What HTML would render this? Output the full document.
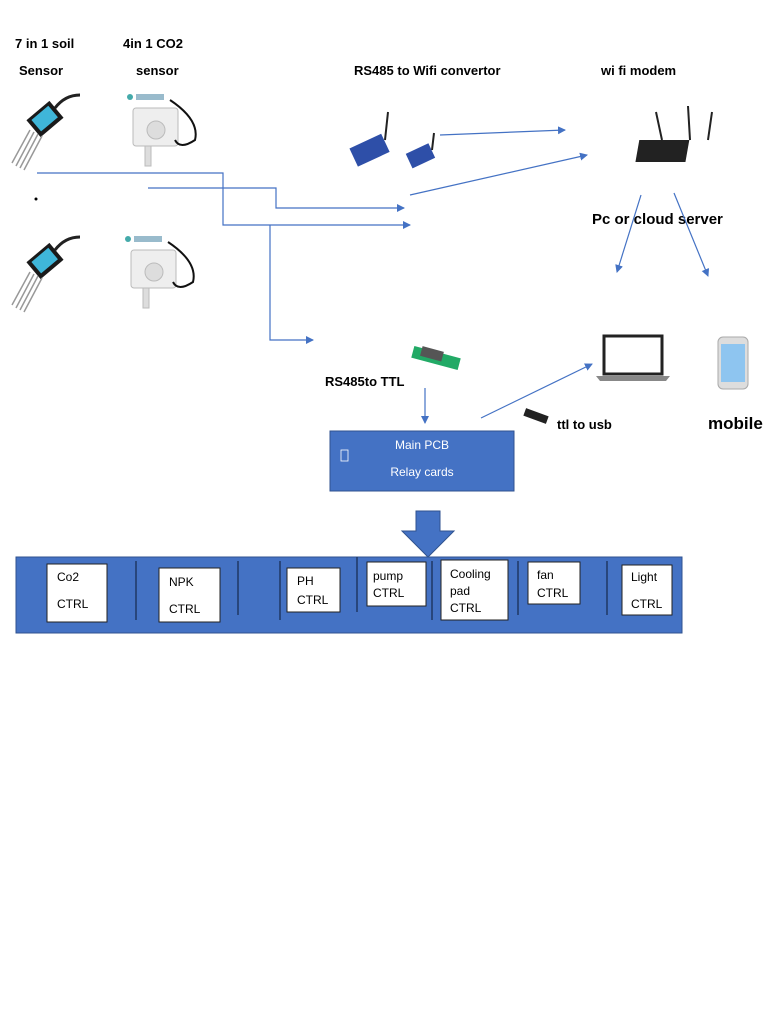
<!DOCTYPE html>
<html><head><meta charset="utf-8"><style>
body{margin:0;background:#fff;width:768px;height:1024px;overflow:hidden;font-family:"Liberation Sans",sans-serif}
svg{position:absolute;left:0;top:0}
</style></head><body>
<svg width="768" height="1024" viewBox="0 0 768 1024" xmlns="http://www.w3.org/2000/svg" font-family="Liberation Sans, sans-serif">
<defs><marker id="a" markerWidth="8" markerHeight="8" refX="7" refY="4" orient="auto" markerUnits="userSpaceOnUse"><path d="M0,0 L8,4 L0,8 z" fill="#4472c4"/></marker></defs>
<g font-weight="bold" font-size="13" fill="#000">
<text x="15" y="48">7 in 1 soil</text>
<text x="19" y="75">Sensor</text>
<text x="123" y="48">4in 1 CO2</text>
<text x="136" y="75">sensor</text>
<text x="354" y="75">RS485 to Wifi convertor</text>
<text x="601" y="75">wi fi modem</text>
<text x="592" y="224" font-size="15">Pc or cloud server</text>
<text x="325" y="386">RS485to TTL</text>
<text x="557" y="429">ttl to usb</text>
<text x="708" y="429" font-size="17">mobile</text>
</g>
<circle cx="36" cy="199" r="1.5" fill="#000"/>
<!-- soil sensors -->
<g id="soil">
<path d="M55,108 Q65,95 80,95" stroke="#222" stroke-width="3" fill="none"/>
<rect x="30" y="108" width="30" height="22" transform="rotate(-40 45 119)" fill="#1a1a1a"/>
<rect x="34" y="111" width="22" height="15" transform="rotate(-40 45 119)" fill="#3fb6d9"/>
<path d="M30,130 L12,163 M34,132 L16,166 M38,134 L20,168 M42,136 L24,170" stroke="#999" stroke-width="1.5"/>
</g>
<use href="#soil" transform="translate(0,142)"/>
<!-- co2 sensors -->
<g id="co2">
<circle cx="130" cy="97" r="3" fill="#4aa"/><rect x="136" y="94" width="28" height="6" fill="#9bc"/>
<rect x="133" y="108" width="45" height="38" rx="3" fill="#eee" stroke="#bbb"/>
<circle cx="156" cy="130" r="9" fill="#ddd" stroke="#bbb"/>
<rect x="145" y="146" width="6" height="20" fill="#ddd" stroke="#bbb"/>
<path d="M170,100 Q200,120 195,140 Q180,150 175,140" stroke="#111" stroke-width="2" fill="none"/>
</g>
<use href="#co2" transform="translate(-2,142)"/>
<!-- rs485 wifi -->
<g fill="#2e4fa8"><rect x="352" y="140" width="35" height="20" transform="rotate(-25 370 150)"/><rect x="408" y="148" width="25" height="16" transform="rotate(-25 420 156)"/></g>
<path d="M385,140 L388,112 M432,150 L434,133" stroke="#222" stroke-width="2"/>
<!-- modem -->
<rect x="664" y="140" width="50" height="22" fill="#222" transform="skewX(-10)"/>
<path d="M662,140 L656,112 M690,140 L688,106 M708,140 L712,112" stroke="#222" stroke-width="2"/>
<!-- laptop -->
<rect x="604" y="336" width="58" height="38" fill="#fff" stroke="#222" stroke-width="3"/>
<path d="M596,376 L670,376 L666,381 L600,381 z" fill="#888"/>
<!-- phone -->
<rect x="718" y="337" width="30" height="52" rx="5" fill="#ddd" stroke="#aaa"/>
<rect x="721" y="344" width="24" height="38" fill="#8ec5f0"/>
<!-- rs485 ttl -->
<rect x="412" y="352" width="48" height="12" fill="#2a6" transform="rotate(15 436 358)"/>
<rect x="420" y="350" width="22" height="10" fill="#555" transform="rotate(15 436 358)"/>
<!-- ttl usb -->
<rect x="524" y="412" width="24" height="8" fill="#222" transform="rotate(20 536 416)"/>
<!-- connectors -->
<g stroke="#4472c4" stroke-width="1.2" fill="none" marker-end="url(#a)">
<path d="M37,173 L223,173 L223,225 L410,225"/>
<path d="M148,188 L276,188 L276,208 L404,208"/>
<path d="M270,225 L270,340 L313,340"/>
<path d="M440,135 L565,130"/>
<path d="M410,195 L587,155"/>
<path d="M641,195 L617,272"/>
<path d="M674,193 L708,276"/>
<path d="M425,388 L425,423"/>
<path d="M481,418 L592,364"/>
</g>
<!-- main pcb -->
<rect x="330" y="431" width="184" height="60" fill="#4472c4" stroke="#2f528f"/>
<text x="422" y="449" font-size="12" fill="#fff" text-anchor="middle">Main PCB</text>
<text x="422" y="476" font-size="12" fill="#fff" text-anchor="middle">Relay cards</text>
<rect x="341" y="450" width="7" height="11" fill="none" stroke="#fff" stroke-width="0.8"/>
<!-- big arrow -->
<path d="M416,511 L440,511 L440,531 L454,531 L428,557 L402,531 L416,531 z" fill="#4472c4" stroke="#2f528f"/>
<!-- bar -->
<rect x="16" y="557" width="666" height="76" fill="#4472c4" stroke="#2f528f"/>
<g stroke="#1f3864" stroke-width="1.5"><path d="M136,561V620M238,561V615M280,561V620M357,557V612M432,561V620M518,561V615M607,561V615"/></g>
<g fill="#fff" stroke="#222"><rect x="47" y="564" width="60" height="58"/><rect x="159" y="568" width="61" height="54"/><rect x="287" y="568" width="53" height="44"/><rect x="367" y="562" width="59" height="44"/><rect x="441" y="560" width="67" height="60"/><rect x="528" y="562" width="52" height="42"/><rect x="622" y="565" width="50" height="50"/></g>
<g font-size="12" fill="#000">
<text x="57" y="581">Co2</text><text x="57" y="608">CTRL</text>
<text x="169" y="586">NPK</text><text x="169" y="613">CTRL</text>
<text x="297" y="585">PH</text><text x="297" y="604">CTRL</text>
<text x="373" y="580">pump</text><text x="373" y="597">CTRL</text>
<text x="450" y="578">Cooling</text><text x="450" y="595">pad</text><text x="450" y="612">CTRL</text>
<text x="537" y="579">fan</text><text x="537" y="597">CTRL</text>
<text x="631" y="581">Light</text><text x="631" y="608">CTRL</text>
</g>
</svg>
</body></html>
